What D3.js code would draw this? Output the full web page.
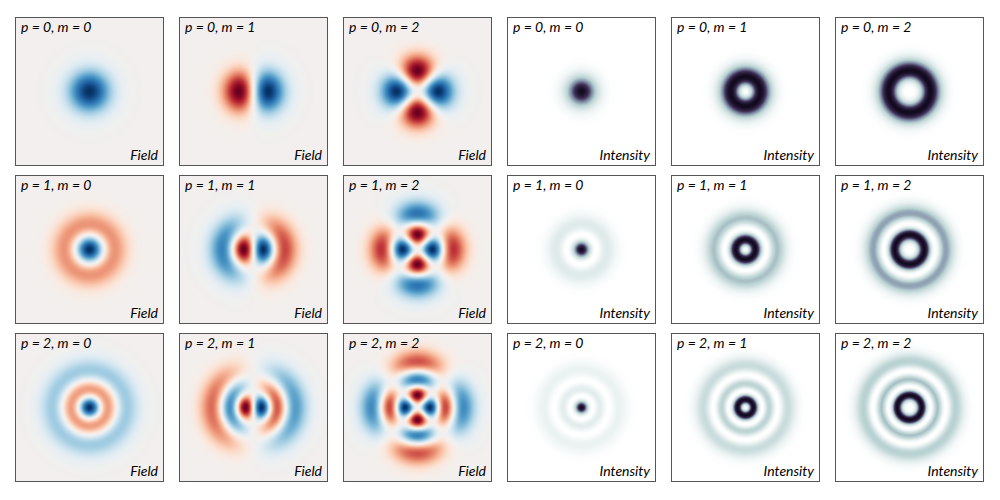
<!DOCTYPE html>
<html><head><meta charset="utf-8">
<script src="https://cdn.jsdelivr.net/npm/d3@7"></script>
<style>body{margin:0;background:#fff}svg{display:block}</style>
</head><body><svg id="c" width="1000" height="500"></svg>
<script>
const pValues = [0, 1, 2];
const mValues = [0, 1, 2];
const kinds = ["Field", "Intensity"];
const intensityStops = ["#ffffff", "#dfeaea", "#b9d2d2", "#7f8ea6", "#3e2f57", "#120a1e"];

const colX0 = [15, 179, 343, 507, 671, 835], rowY0 = [17, 175, 333];
const size = 149, N = 149, w = 21;

function laguerre(p, m, x) {
  if (p === 0) return 1;
  if (p === 1) return 1 + m - x;
  return (x * x) / 2 - (m + 2) * x + (m + 2) * (m + 1) / 2;
}
function radial(p, m, x, y) {
  const r2 = (x * x + y * y) / (w * w);
  return Math.pow(Math.SQRT2 * Math.sqrt(r2), m) * laguerre(p, m, 2 * r2) * Math.exp(-r2);
}
function field(p, m, x, y) {
  return radial(p, m, x, y) * Math.cos(m * Math.atan2(-y, x));
}
const intensityColor = d3.scaleLinear().domain(d3.range(intensityStops.length).map(i => i / (intensityStops.length - 1))).range(intensityStops).interpolate(d3.interpolateRgb);
const fieldColor = d3.scaleSequential(d3.interpolateRdBu).domain([-1, 1]);
const pix = d3.scaleLinear().domain([0, N - 1]).range([-(size - 1) / 2, (size - 1) / 2]);

const svg = d3.select("#c");
pValues.forEach((p, ri) => {
  kinds.forEach((kind, ki) => {
    mValues.forEach((m, mi) => {
      const ci = ki * 3 + mi;
      const f = kind === "Field" ? field : radial;
      const vals = [];
      for (let j = 0; j < N; j++) for (let i = 0; i < N; i++) vals.push(f(p, m, pix(i), pix(j)));
      const mx = d3.max(vals, v => Math.abs(v));
      const cv = document.createElement("canvas"); cv.width = N; cv.height = N;
      const ctx = cv.getContext("2d"); const img = ctx.createImageData(N, N);
      vals.forEach((v, k) => {
        const n = v / mx;
        const col = d3.rgb(kind === "Field" ? fieldColor(n) : intensityColor(n * n));
        img.data[4 * k] = col.r; img.data[4 * k + 1] = col.g; img.data[4 * k + 2] = col.b; img.data[4 * k + 3] = 255;
      });
      ctx.putImageData(img, 0, 0);
      const g = svg.append("g").attr("transform", `translate(${colX0[ci]},${rowY0[ri]})`);
      g.append("image").attr("href", cv.toDataURL()).attr("width", size).attr("height", size);
      g.append("rect").attr("x", 0.5).attr("y", 0.5).attr("width", size - 1).attr("height", size - 1)
        .attr("fill", "none").attr("stroke", "#555").attr("stroke-width", 1);
      g.append("text").attr("x", 6).attr("y", 15).text(`p = ${p}, m = ${m}`)
        .attr("font-family", "Lato").attr("font-style", "italic").attr("font-size", 14).attr("fill", "#000");
      g.append("text").attr("x", size - 6).attr("y", size - 6).attr("text-anchor", "end").text(kind)
        .attr("font-family", "Lato").attr("font-style", "italic").attr("font-size", 14).attr("fill", "#000");
    });
  });
});
</script></body></html>
